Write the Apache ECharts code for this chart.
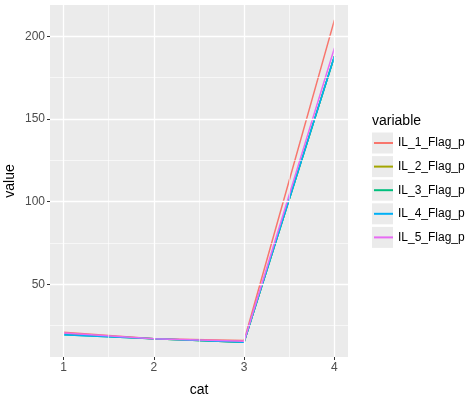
<!DOCTYPE html>
<html>
<head>
<meta charset="utf-8">
<script src="https://cdn.jsdelivr.net/npm/echarts@6/dist/echarts.min.js"></script>
<style>html,body{margin:0;padding:0;background:#fff}#c{width:474px;height:397px}</style>
</head>
<body>
<div id="c"></div>
<script>
const categories = [1, 2, 3, 4];
const seriesNames = ['IL_1_Flag_p', 'IL_2_Flag_p', 'IL_3_Flag_p', 'IL_4_Flag_p', 'IL_5_Flag_p'];
const IL_1 = [21, 17, 16, 210];
const IL_2 = [20, 17, 15, 188];
const IL_3 = [19.5, 17, 15, 188];
const IL_4 = [19.5, 17, 15, 188];
const IL_5 = [20.5, 17, 15.5, 193];
const yTicks = [50, 100, 150, 200];
const yMinor = [25, 75, 125, 175];
const xMinor = [1.5, 2.5, 3.5];
const colors = ['#F8766D', '#A3A500', '#00BF7D', '#00B0F6', '#E76BF3'];
const values = [IL_1, IL_2, IL_3, IL_4, IL_5];

const font = 'Liberation Sans, Arial, sans-serif';
const chart = echarts.init(document.getElementById('c'));

const gridLines = [];
categories.forEach(v => gridLines.push({xAxis: v, lineStyle: {width: 1.3}}));
xMinor.forEach(v => gridLines.push({xAxis: v, lineStyle: {width: 0.6}}));
yTicks.forEach(v => gridLines.push({yAxis: v, lineStyle: {width: 1.3}}));
yMinor.forEach(v => gridLines.push({yAxis: v, lineStyle: {width: 0.6}}));

const series = [{
  type: 'line', data: [], silent: true, z: 1,
  markLine: {
    silent: true, symbol: ['none', 'none'], label: {show: false},
    lineStyle: {color: '#FFFFFF', type: 'solid'},
    emphasis: {disabled: true},
    animation: false,
    data: gridLines
  }
}];
seriesNames.forEach((n, i) => {
  series.push({
    name: n, type: 'line', z: 3,
    data: categories.map((c, j) => [c, values[i][j]]),
    showSymbol: false, symbol: 'none',
    lineStyle: {color: colors[i], width: 1.5},
    itemStyle: {color: colors[i]},
    animation: false
  });
});

const legendRects = seriesNames.map((n, i) => ({
  type: 'rect', left: 372, top: 132.5 + i * 23.6,
  shape: {width: 21, height: 21}, style: {fill: '#EBEBEB'}, z: -1
}));

chart.setOption({
  animation: false,
  grid: {left: 50, right: 126, top: 5, bottom: 40, show: true, backgroundColor: '#EBEBEB', borderWidth: 0, outerBoundsMode: 'none', containLabel: false},
  xAxis: {
    type: 'value', min: 0.85, max: 4.15,
    name: 'cat', nameLocation: 'middle', nameGap: 26, nameMoveOverlap: false,
    nameTextStyle: {fontFamily: font, fontSize: 14, color: '#000'},
    axisLine: {show: false},
    axisTick: {show: true, length: 3, lineStyle: {color: '#333'}, customValues: categories},
    axisLabel: {customValues: categories, fontFamily: font, fontSize: 12, color: '#4D4D4D', margin: 5},
    splitLine: {show: false}
  },
  yAxis: {
    type: 'value', min: 6, max: 219,
    name: 'value', nameLocation: 'middle', nameGap: 33, nameMoveOverlap: false,
    nameTextStyle: {fontFamily: font, fontSize: 14, color: '#000'},
    axisLine: {show: false},
    axisTick: {show: true, length: 3, lineStyle: {color: '#333'}, customValues: yTicks},
    axisLabel: {customValues: yTicks, fontFamily: font, fontSize: 12, color: '#4D4D4D', margin: 5},
    splitLine: {show: false}
  },
  title: {
    text: 'variable', left: 372, top: 114, padding: 0,
    textStyle: {fontFamily: font, fontSize: 14, fontWeight: 'normal', color: '#000'}
  },
  legend: {
    orient: 'vertical', left: 374, top: 132.5, padding: 0,
    itemWidth: 19, itemHeight: 2, itemGap: 2.6, icon: 'rect',
    textStyle: {fontFamily: font, fontSize: 12, color: '#000', lineHeight: 21, padding: [0, 0, 0, 0]},
    data: seriesNames
  },
  graphic: legendRects,
  series: series
});
</script>
</body>
</html>
